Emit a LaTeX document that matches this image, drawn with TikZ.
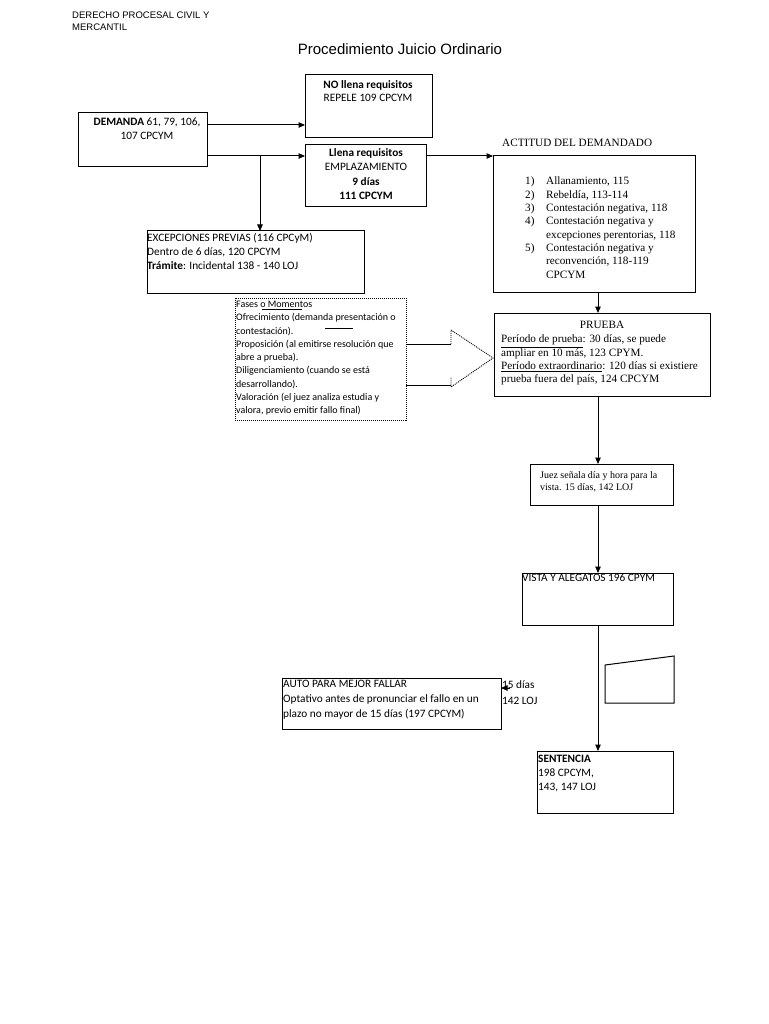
\documentclass[tikz,border=0pt]{standalone}
\usepackage{fontspec}
\setmainfont{Liberation Serif}
\newfontfamily\arialf{Liberation Sans}
\newfontfamily\calf{Carlito}
\usetikzlibrary{arrows.meta}
\begin{document}
\begin{tikzpicture}[x=1pt,y=-1pt,
  box/.style={draw,line width=1pt,anchor=north west,inner sep=0pt,outer sep=0pt},
  dotbox/.style={box,line width=0.9pt,dash pattern=on 1pt off 1pt},
  dotln/.style={line width=0.9pt,dash pattern=on 1pt off 1pt},
  arr/.style={line width=1pt,-{Triangle[length=6.5pt,width=5.5pt]}},
  ln/.style={line width=1pt},
  txt/.style={inner sep=0pt,anchor=north west,align=left},
  ctxt/.style={inner sep=0pt,anchor=north,align=center},
  cal/.style={font=\calf\fontsize{11.3}{14}\selectfont},
  ser/.style={font=\fontsize{11.2}{13.3}\selectfont},
]
\fill[white] (0,0) rectangle (768,1024);
\useasboundingbox (0,0) rectangle (768,1024);

% header and title
\node[txt,font=\arialf\fontsize{9.5}{12}\selectfont] (hdr) at (72,12) {DERECHO PROCESAL CIVIL Y\\MERCANTIL};
\node[inner sep=0pt,font=\arialf\fontsize{15}{18}\selectfont] (title) at (400,49) {Procedimiento Juicio Ordinario};

% boxes
\node[box,minimum width=129,minimum height=54] (dem) at (78,113) {};
\node[box,minimum width=127,minimum height=63] (no) at (305,75) {};
\node[box,minimum width=121,minimum height=62] (llena) at (305,145) {};
\node[box,minimum width=217,minimum height=62] (exc) at (147,231) {};
\node[box,minimum width=202,minimum height=136] (act) at (493,156) {};
\node[dotbox,minimum width=171,minimum height=122] (fases) at (235,298) {};
\node[box,minimum width=216,minimum height=83] (prueba) at (494,313) {};
\node[box,minimum width=143,minimum height=41] (juez) at (530,464) {};
\node[box,minimum width=151,minimum height=52] (vista) at (522,573) {};
\node[box,minimum width=219,minimum height=51] (auto) at (282,678) {};
\node[box,minimum width=136,minimum height=62] (sent) at (537,751) {};

% texts
\node[ctxt,cal] (demt) at (147,118) {\textbf{DEMANDA} 61, 79, 106,\\107 CPCYM};
\node[ctxt,font=\calf\fontsize{11.3}{13.5}\selectfont] (not) at (368,80) {\textbf{NO llena requisitos}\\REPELE 109 CPCYM};
\node[ctxt,font=\calf\fontsize{11.3}{14.6}\selectfont] (llenat) at (366,148) {\textbf{Llena requisitos}\\EMPLAZAMIENTO\\\textbf{9 días}\\\textbf{111 CPCYM}};
\node[txt,cal] (exct) at (147,233) {EXCEPCIONES PREVIAS (116 CPCyM)\\Dentro de 6 días, 120 CPCYM\\\textbf{Trámite}: Incidental 138 - 140 LOJ};
\node[txt,font=\fontsize{11.2}{13}\selectfont] (actl) at (502,139) {ACTITUD DEL DEMANDADO};
\node[txt,ser] (actlist) at (525,177) {\makebox[21pt][l]{1)}Allanamiento, 115\\
\makebox[21pt][l]{2)}Rebeldía, 113-114\\
\makebox[21pt][l]{3)}Contestación negativa, 118\\
\makebox[21pt][l]{4)}Contestación negativa y\\
\hspace*{21pt}excepciones perentorias, 118\\
\makebox[21pt][l]{5)}Contestación negativa y\\
\hspace*{21pt}reconvención, 118-119\\
\hspace*{21pt}CPCYM};
\node[txt,font=\calf\fontsize{10}{13.25}\selectfont] (fasest) at (236,301) {Fases o Momentos\\
Ofrecimiento (demanda presentación o\\
contestación).\\
Proposición (al emitirse resolución que\\
abre a prueba).\\
Diligenciamiento (cuando se está\\
desarrollando).\\
Valoración (el juez analiza estudia y\\
valora, previo emitir fallo final)};
\node[inner sep=0pt,font=\fontsize{11.2}{13}\selectfont] (pruebat) at (602,325) {PRUEBA};
\node[txt,ser] (pruebab) at (501,335) {\underline{Período de prueba}: 30 días, se puede\\
ampliar en 10 más, 123 CPYM.\\
\underline{Período extraordinario}: 120 días si existiere\\
prueba fuera del país, 124 CPCYM};
\node[txt,font=\fontsize{10}{12.6}\selectfont] (juezt) at (540,471) {Juez señala día y hora para la\\vista. 15 días, 142 LOJ};
\node[txt,cal] (vistat) at (522,574) {VISTA Y ALEGATOS 196 CPYM};
\node[txt,font=\calf\fontsize{11.3}{15}\selectfont] (autot) at (283,680) {AUTO PARA MEJOR FALLAR\\Optativo antes de pronunciar el fallo en un\\plazo no mayor de 15 días (197 CPCYM)};
\node[txt,font=\calf\fontsize{11.3}{16}\selectfont] (diast) at (502,680) {15 días\\142 LOJ};
\node[txt,cal] (sentt) at (538,755) {\textbf{SENTENCIA}\\198 CPCYM,\\143, 147 LOJ};

% connectors
\coordinate (r1) at (0,125);
\coordinate (r2) at (0,156);
\coordinate (vx) at (260,0);
\coordinate (spine) at (598,0);
\draw[arr] (dem.east |- r1) -- (no.west |- r1);
\draw[arr] (dem.east |- r2) -- (llena.west |- r2);
\draw[arr] (vx |- r2) -- (vx |- exc.north);
\draw[arr] (llena.east |- r2) -- (act.north west);
\draw[arr] (act.south -| spine) -- (prueba.north -| spine);
\draw[arr] (prueba.south -| spine) -- (juez.north -| spine);
\draw[arr] (juez.south -| spine) -- (vista.north -| spine);
\draw[arr] (vista.south -| spine) -- (sent.north -| spine);

% fases to prueba chevron
\coordinate (c1) at (451,330);
\coordinate (c2) at (451,344);
\coordinate (tip) at (493,358);
\coordinate (c3) at (451,377);
\coordinate (c4) at (451,387);
\draw[ln] (fases.east |- c2) -- (c2);
\draw[ln] (fases.east |- 0,385) -- (451,385);
\draw[dotln] (c2) -- (c1) -- (tip) -- (c4) -- (c3);
% small marks in fases text
\draw[line width=0.8pt] (262,309) -- (302,309);
\draw[line width=0.8pt] (325,328) -- (353,328);

% small arrow near 15 dias
\coordinate (a15) at (510,688);
\draw[arr] (a15) -- (auto.east |- a15);

% quadrilateral
\draw[ln] (605,665) -- (674,656) -- (674,703) -- (605,703) -- cycle;
\end{tikzpicture}
\end{document}
